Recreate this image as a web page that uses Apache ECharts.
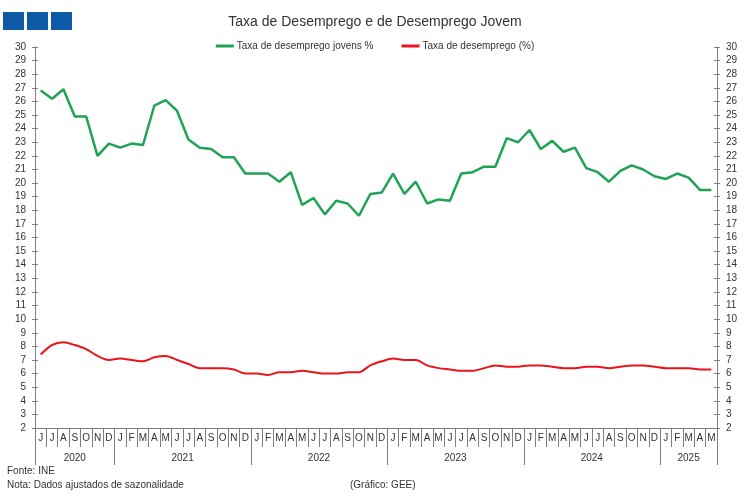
<!DOCTYPE html>
<html>
<head>
<meta charset="utf-8">
<script src="https://cdn.jsdelivr.net/npm/echarts@6/dist/echarts.min.js"></script>
<style>
	html, body { margin: 0; padding: 0; background: #fff; }
	#chart { width: 750px; height: 500px; }
</style>
</head>
<body>
<div id="chart"></div>
<script>
// monthly categories, Jun 2020 .. May 2025
var months = [
	'2020-06','2020-07','2020-08','2020-09','2020-10','2020-11','2020-12',
	'2021-01','2021-02','2021-03','2021-04','2021-05','2021-06','2021-07','2021-08','2021-09','2021-10','2021-11','2021-12',
	'2022-01','2022-02','2022-03','2022-04','2022-05','2022-06','2022-07','2022-08','2022-09','2022-10','2022-11','2022-12',
	'2023-01','2023-02','2023-03','2023-04','2023-05','2023-06','2023-07','2023-08','2023-09','2023-10','2023-11','2023-12',
	'2024-01','2024-02','2024-03','2024-04','2024-05','2024-06','2024-07','2024-08','2024-09','2024-10','2024-11','2024-12',
	'2025-01','2025-02','2025-03','2025-04','2025-05'
];
var monthLetters = ['J','F','M','A','M','J','J','A','S','O','N','D'];

// year groups: label, first month index
var yearLabels = ['2020', '2021', '2022', '2023', '2024', '2025'];
var yearStarts = [0, 7, 19, 31, 43, 55];

var youthRate = [
	26.8, 26.2, 26.9, 24.9, 24.9, 22.0, 22.9,
	22.6, 22.9, 22.8, 25.7, 26.1, 25.3, 23.2, 22.6, 22.5, 21.9, 21.9, 20.7,
	20.7, 20.7, 20.1, 20.8, 18.4, 18.9, 17.7, 18.7, 18.5, 17.6, 19.2, 19.3,
	20.7, 19.2, 20.1, 18.5, 18.8, 18.7, 20.7, 20.8, 21.2, 21.2, 23.3, 23.0,
	23.9, 22.5, 23.1, 22.3, 22.6, 21.1, 20.8, 20.1, 20.9, 21.3, 21.0, 20.5,
	20.3, 20.7, 20.4, 19.5, 19.5
];
var totalRate = [
	7.4, 8.1, 8.3, 8.1, 7.8, 7.3, 7.0,
	7.1, 7.0, 6.9, 7.2, 7.3, 7.0, 6.7, 6.4, 6.4, 6.4, 6.3, 6.0,
	6.0, 5.9, 6.1, 6.1, 6.2, 6.1, 6.0, 6.0, 6.1, 6.1, 6.6, 6.9,
	7.1, 7.0, 7.0, 6.6, 6.4, 6.3, 6.2, 6.2, 6.4, 6.6, 6.5, 6.5,
	6.6, 6.6, 6.5, 6.4, 6.4, 6.5, 6.5, 6.4, 6.5, 6.6, 6.6, 6.5,
	6.4, 6.4, 6.4, 6.3, 6.3
];

var colors = {
	youth: '#1fa455',
	total: '#e8151b',
	axis: '#7f7f7f',
	text: '#333333',
	logo: '#0f5aa6'
};
var font = 'Liberation Sans, Arial, sans-serif';

function yearLabelAt(idx) {
	for (var k = 0; k < yearStarts.length; k++) {
		var start = yearStarts[k];
		var end = k + 1 < yearStarts.length ? yearStarts[k + 1] : months.length;
		var len = end - start;
		var mid = start + Math.floor((len - 1) / 2);
		if (idx === mid) return { text: yearLabels[k], even: len % 2 === 0 };
	}
	return null;
}

var chart = echarts.init(document.getElementById('chart'));

function yAxisBase(pos, inside, showLabel) {
	return {
		type: 'value',
		position: pos,
		min: 2,
		max: 30,
		interval: 1,
		splitLine: { show: false },
		axisLine: { show: !inside, lineStyle: { color: colors.axis, width: 1 } },
		axisTick: { show: true, inside: inside, length: 3, lineStyle: { color: colors.axis } },
		axisLabel: {
			show: showLabel,
			margin: 9,
			fontSize: 10,
			fontFamily: font,
			color: colors.text
		}
	};
}

var option = {
	animation: false,
	title: {
		text: 'Taxa de Desemprego e de Desemprego Jovem',
		left: 'center',
		top: 10,
		textStyle: { fontSize: 14, fontWeight: 'normal', fontFamily: font, color: colors.text }
	},
	legend: {
		top: 36,
		left: 'center',
		itemGap: 28,
		itemWidth: 18,
		itemHeight: 3,
		icon: 'rect',
		textStyle: { fontSize: 10, fontFamily: font, color: colors.text, padding: [0, 0, 0, -2] },
		data: ['Taxa de desemprego jovens %', 'Taxa de desemprego (%)']
	},
	grid: { left: 35, right: 33, top: 47, bottom: 72 },
	xAxis: [
		{
			type: 'category',
			data: months,
			boundaryGap: true,
			axisLine: { show: true, lineStyle: { color: colors.axis } },
			axisTick: { show: true, length: 19, interval: 0, lineStyle: { color: colors.axis } },
			axisLabel: {
				interval: 0,
				margin: 5,
				fontSize: 10,
				fontFamily: font,
				color: colors.text,
				formatter: function (v) { return monthLetters[+v.slice(5) - 1]; }
			}
		},
		{
			type: 'category',
			data: months,
			position: 'bottom',
			boundaryGap: true,
			axisLine: { show: false },
			axisTick: {
				show: true,
				length: 37,
				lineStyle: { color: colors.axis },
				interval: function (idx) { return yearStarts.indexOf(idx) >= 0; }
			},
			axisLabel: {
				margin: 25,
				fontSize: 10,
				fontFamily: font,
				color: colors.text,
				interval: function (idx) { return yearLabelAt(idx) !== null; },
				formatter: function (v, idx) {
					var y = yearLabelAt(idx);
					if (!y) return '';
					return y.even ? '{s|' + y.text + '}' : y.text;
				},
				rich: { s: { fontSize: 10, fontFamily: font, color: colors.text, padding: [0, 0, 0, 11] } }
			}
		}
	],
	yAxis: [
		yAxisBase('left', false, true),
		yAxisBase('right', false, true),
		yAxisBase('left', true, false),
		yAxisBase('right', true, false)
	],
	series: [
		{
			name: 'Taxa de desemprego jovens %',
			type: 'line',
			data: youthRate,
			showSymbol: false,
			color: colors.youth,
			lineStyle: { width: 2.5, color: colors.youth }
		},
		{
			name: 'Taxa de desemprego (%)',
			type: 'line',
			data: totalRate,
			smooth: 0.3,
			showSymbol: false,
			color: colors.total,
			lineStyle: { width: 2, color: colors.total }
		}
	],
	graphic: [
		{ type: 'rect', left: 3, top: 12, shape: { width: 21, height: 18 }, style: { fill: colors.logo } },
		{ type: 'rect', left: 27, top: 12, shape: { width: 21, height: 18 }, style: { fill: colors.logo } },
		{ type: 'rect', left: 51, top: 12, shape: { width: 21, height: 18 }, style: { fill: colors.logo } },
		{ type: 'text', left: 7, top: 466, style: { text: 'Fonte: INE', fontSize: 10, fontFamily: font, fill: colors.text } },
		{ type: 'text', left: 7, top: 480, style: { text: 'Nota: Dados ajustados de sazonalidade', fontSize: 10, fontFamily: font, fill: colors.text } },
		{ type: 'text', left: 350, top: 480, style: { text: '(Gráfico: GEE)', fontSize: 10, fontFamily: font, fill: colors.text } }
	]
};

chart.setOption(option);
</script>
</body>
</html>
